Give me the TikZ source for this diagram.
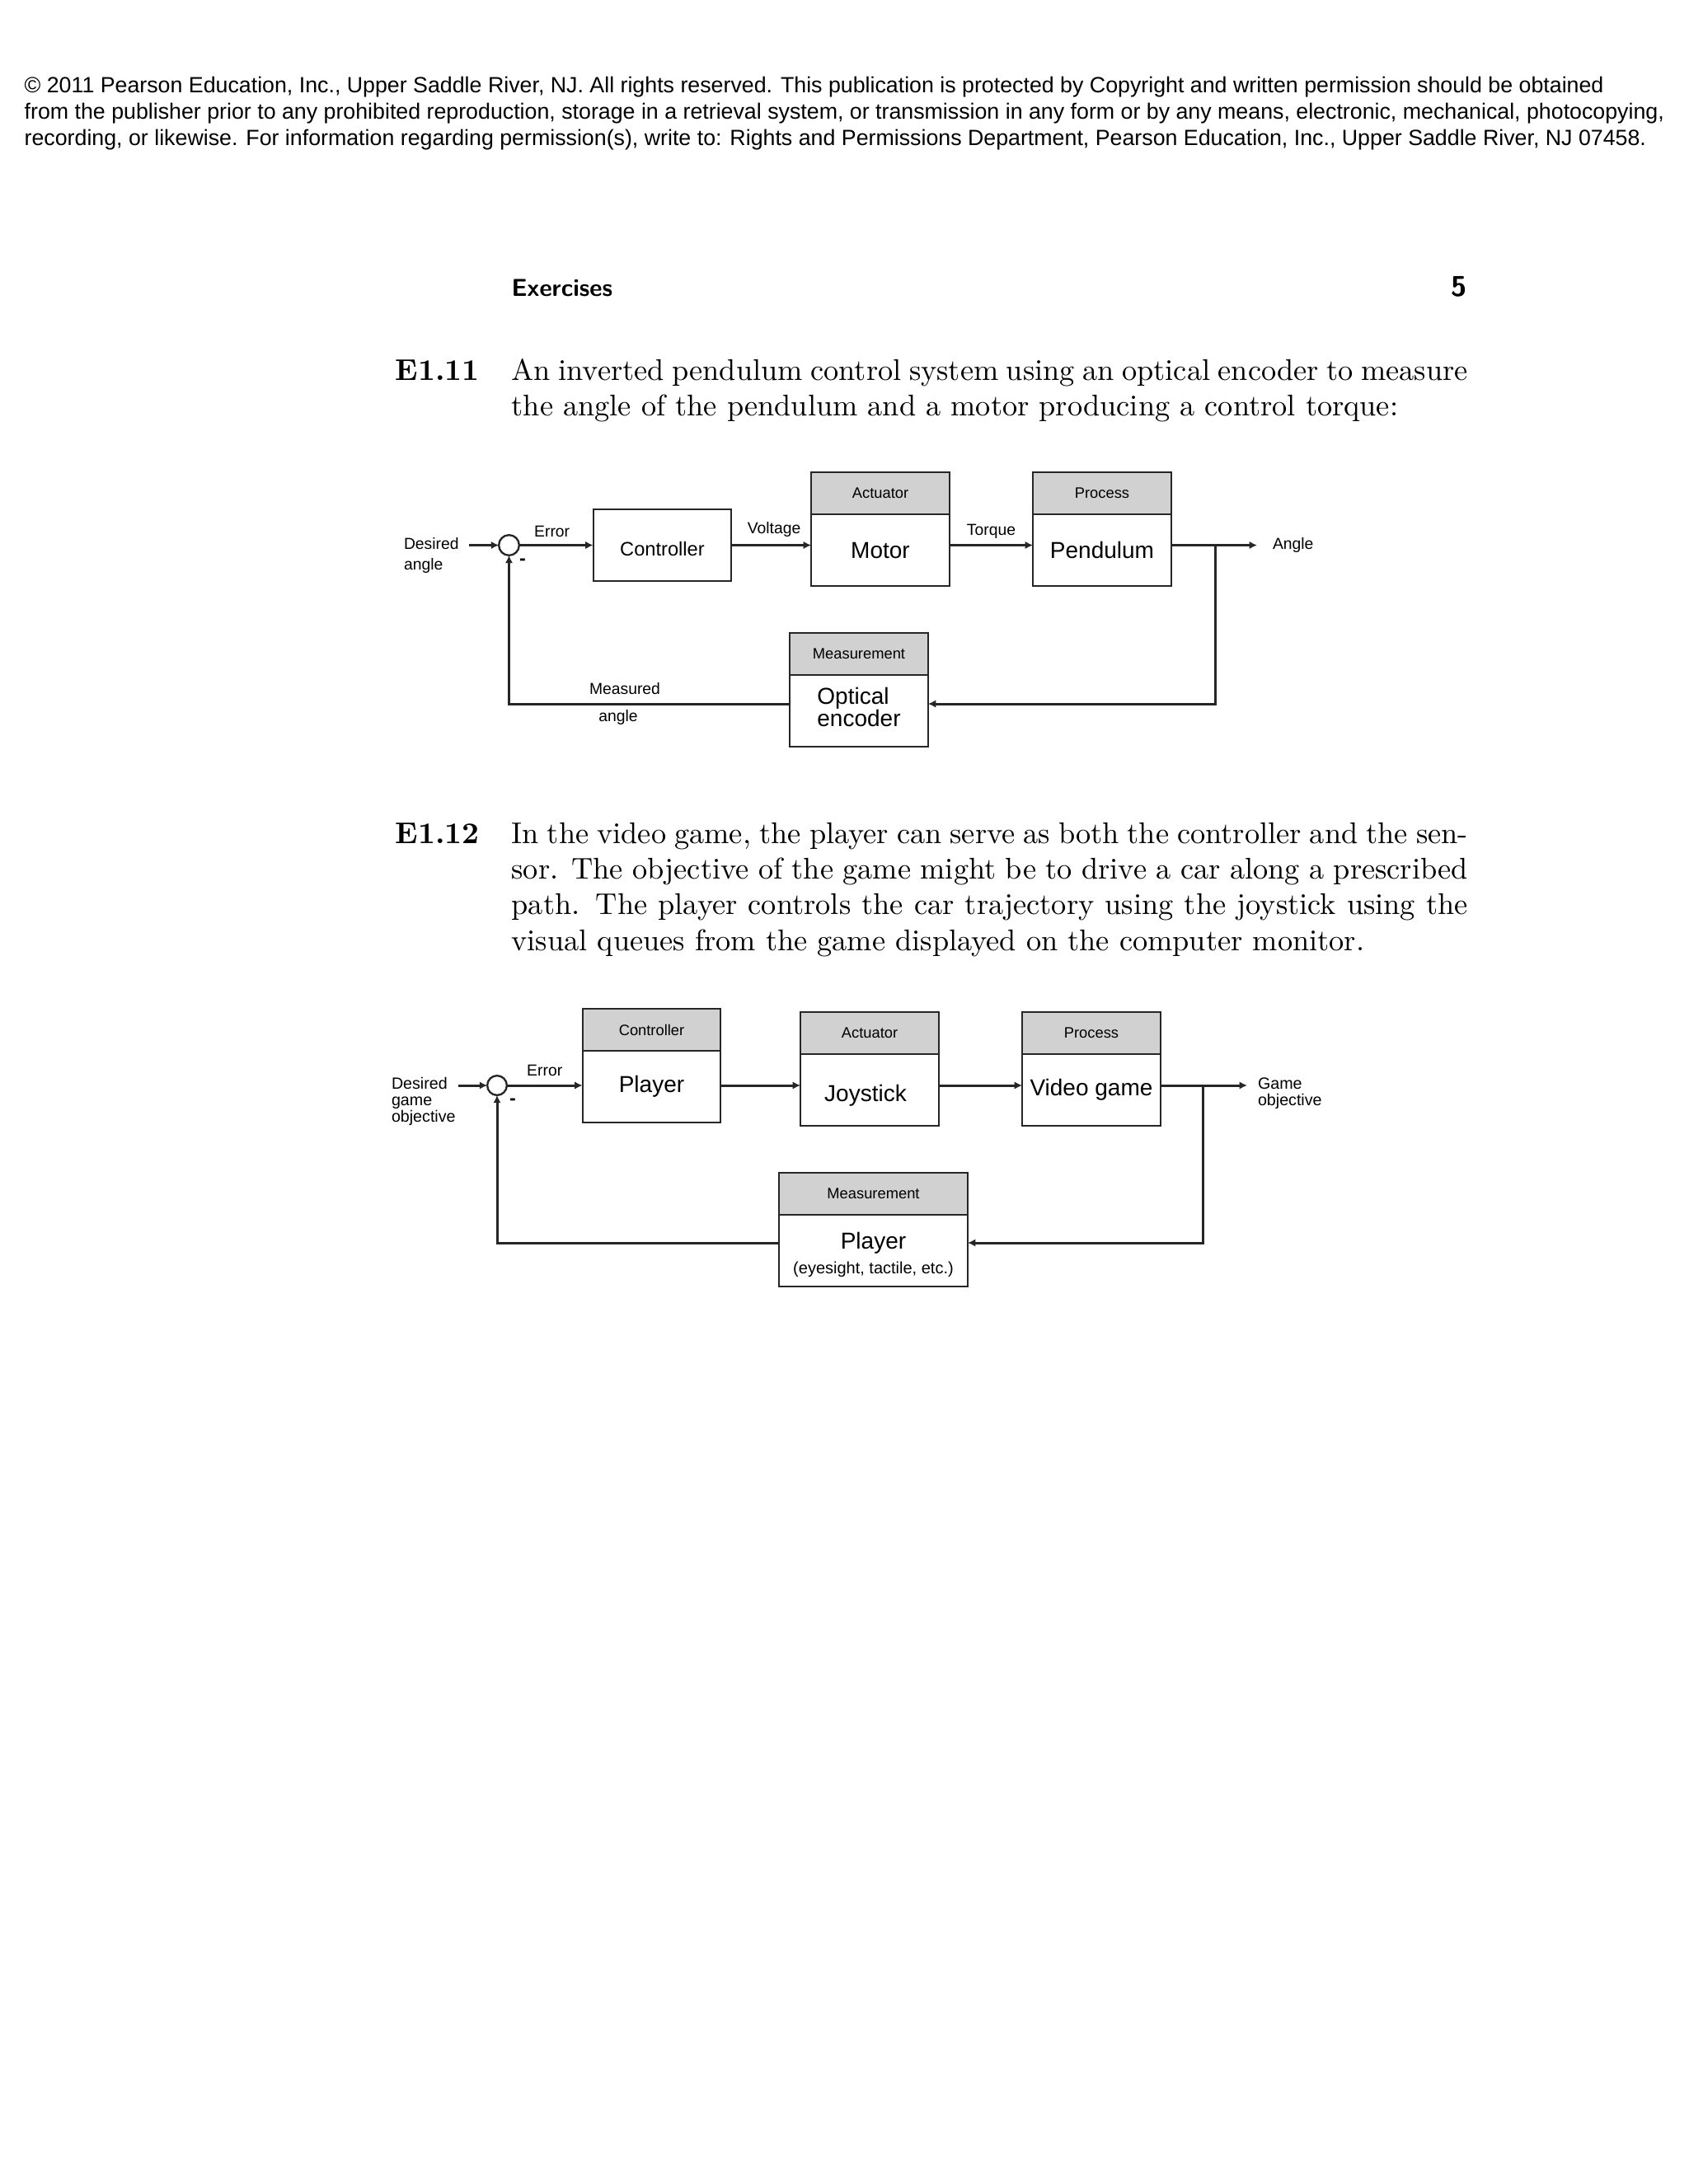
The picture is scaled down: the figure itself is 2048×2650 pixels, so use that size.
\documentclass[tikz,border=0pt]{standalone}
\usepackage{fontspec}
\newfontfamily\arialfam{Liberation Sans}
\usetikzlibrary{arrows.meta,positioning}

\tikzset{
  hdr/.style={draw=black!85, fill=black!18, line width=0.6pt, outer sep=0pt, inner sep=0pt,
    minimum width=17.7mm, minimum height=5.38mm, font=\arialfam\fontsize{5.5}{6.5}\selectfont},
  blk/.style={draw=black!85, fill=white, line width=0.6pt, outer sep=0pt, inner sep=0pt,
    minimum width=17.7mm, minimum height=9.17mm, align=center, font=\arialfam\fontsize{8.4}{8.1}\selectfont},
  sumj/.style={draw=black!85, circle, line width=0.7pt, minimum size=2.6mm, inner sep=0pt, outer sep=0pt},
  lbl/.style={font=\arialfam\fontsize{5.8}{7.5}\selectfont, inner sep=1pt},
  minus/.style={font=\arialfam\bfseries\fontsize{7}{7}\selectfont, inner sep=0pt},
  sig/.style={line width=0.9pt, draw=black!85, -{Latex[length=2.8pt,width=2.8pt]}},
  note/.style={font=\arialfam\fontsize{8.03}{9}\selectfont, inner sep=0pt, anchor=base west},
  para/.style={font=\fontsize{10.9}{13}\selectfont, text width=348pt, align=justify, inner sep=0pt, anchor=base west}
}

\begin{document}
\begin{tikzpicture}[x=0.10542mm, y=-0.10542mm]
  \fill[white] (0,0) rectangle (2048,2650);
  \useasboundingbox (0,0) rectangle (2048,2650);

  % page head
  \node[note] at (29,112) (cr1) {\textcopyright{} 2011 Pearson Education, Inc., Upper Saddle River, NJ. All rights reserved. This publication is protected by Copyright and written permission should be obtained};
  \node[note] at (29,144) (cr2) {from the publisher prior to any prohibited reproduction, storage in a retrieval system, or transmission in any form or by any means, electronic, mechanical, photocopying,};
  \node[note] at (29,176) (cr3) {recording, or likewise. For information regarding permission(s), write to: Rights and Permissions Department, Pearson Education, Inc., Upper Saddle River, NJ 07458.};
  \node[anchor=base west, inner sep=0pt, font=\sffamily\bfseries\fontsize{8.9}{10}\selectfont] at (620,359) (head) {Exercises};
  \node[anchor=base east, inner sep=0pt, font=\sffamily\bfseries\fontsize{10.4}{10}\selectfont] at (1780,359) (pageno) {5};

  % E1.11
  \node[anchor=base west, inner sep=0pt, font=\bfseries\fontsize{10.9}{13}\selectfont] at (479,461) (e11) {E1.11};
  \node[para] at (620,461) (p11) {An inverted pendulum control system using an optical encoder to measure\linebreak the angle of the pendulum and a motor producing a control torque:};

  \node[lbl, align=left, anchor=west] at (486,673.5) (din1) {Desired\\angle};
  \coordinate (in1) at (569,661.5);
  \node[sumj] at (617.5,661.5) (sum1) {};
  \node[minus] at (634,682) (m1) {-};
  \node[blk, font=\arialfam\fontsize{7.1}{8}\selectfont] at (803.5,661.5) (ctrl) {\rule{0pt}{8.1pt}Controller};
  \node[hdr] at (1068,598.5) (acth1) {Actuator};
  \node[blk, below=0pt of acth1] (motor) {Motor};
  \node[hdr] at (1337,598.5) (proh1) {Process};
  \node[blk, below=0pt of proh1] (pend) {Pendulum};
  \coordinate (br1) at (1474,661.5);
  \coordinate (out1) at (1525,661.5);
  \node[lbl, anchor=west] at (1540,661) (ang) {Angle};
  \node[hdr] at (1042,793.5) (meah1) {Measurement};
  \node[blk, align=left, below=0pt of meah1] (enc) {Optical\\encoder\rule[-3pt]{0pt}{3pt}};
  \coordinate (fb1) at (1474,854);

  \path
    (in1) edge[sig] (sum1)
    (sum1) edge[sig] node[lbl, above=1.5pt, xshift=-1.5pt] {Error} (ctrl)
    (ctrl) edge[sig] node[lbl, above=1.5pt, xshift=1pt] {Voltage} (ctrl -| motor.west)
    (motor.east |- ctrl) edge[sig] node[lbl, above=1pt] {Torque} (pend.west |- ctrl)
    (pend.east |- ctrl) edge[sig] (out1);
  \draw[sig] (br1) -- (fb1) -- (fb1 -| enc.east);
  \draw[sig] (fb1 -| enc.west) -| (sum1.south);
  \node[lbl] at (758,836) (mlab) {Measured};
  \node[lbl] at (750,870) (alab) {angle};

  % E1.12
  \node[anchor=base west, inner sep=0pt, font=\bfseries\fontsize{10.9}{13}\selectfont] at (479,1023) (e12) {E1.12};
  \node[para] at (620,1023) (p12) {In the video game, the player can serve as both the controller and the sen-\linebreak sor. The objective of the game might be to drive a car along a prescribed\linebreak path. The player controls the car trajectory using the joystick using the\linebreak visual queues from the game displayed on the computer monitor.};

  \node[lbl, align=left, anchor=west, font=\arialfam\fontsize{5.9}{5.9}\selectfont] at (471,1336.5) (din2) {Desired\\game\\objective};
  \coordinate (in2) at (556,1317);
  \node[sumj, minimum size=2.5mm] at (603,1317) (sum2) {};
  \node[minus] at (622,1337) (m2) {-};
  \node[hdr] at (790.5,1249.5) (conh2) {Controller};
  \node[blk, below=0pt of conh2] (play) {Player};
  \node[hdr] at (1055,1253.5) (acth2) {Actuator};
  \node[blk, below=0pt of acth2] (joy) {\rule{0pt}{10pt}Joystick\hspace*{3pt}};
  \node[hdr] at (1324,1253.5) (proh2) {Process};
  \node[blk, below=0pt of proh2] (game) {Video game};
  \coordinate (br2) at (1459,1317);
  \coordinate (out2) at (1513,1317);
  \node[lbl, align=left, anchor=west, font=\arialfam\fontsize{5.9}{6}\selectfont] at (1522,1327) (gobj) {Game\\objective};
  \node[hdr, minimum width=24.14mm] at (1059.5,1448.5) (meah2) {Measurement};
  \node[blk, minimum width=24.14mm, below=0pt of meah2] (eye) {\rule{0pt}{9pt}Player\\[1pt]{\fontsize{6}{7}\selectfont (eyesight, tactile, etc.)}};
  \coordinate (fb2) at (1459,1508);

  \path
    (in2) edge[sig] (sum2)
    (sum2) edge[sig] node[lbl, above=2pt] {Error} (sum2 -| play.west)
    (play.east |- sum2) edge[sig] (joy.west |- sum2)
    (joy.east |- sum2) edge[sig] (game.west |- sum2)
    (game.east |- sum2) edge[sig] (out2);
  \draw[sig] (br2) -- (fb2) -- (fb2 -| eye.east);
  \draw[sig] (fb2 -| eye.west) -| (sum2.south);
\end{tikzpicture}
\end{document}
